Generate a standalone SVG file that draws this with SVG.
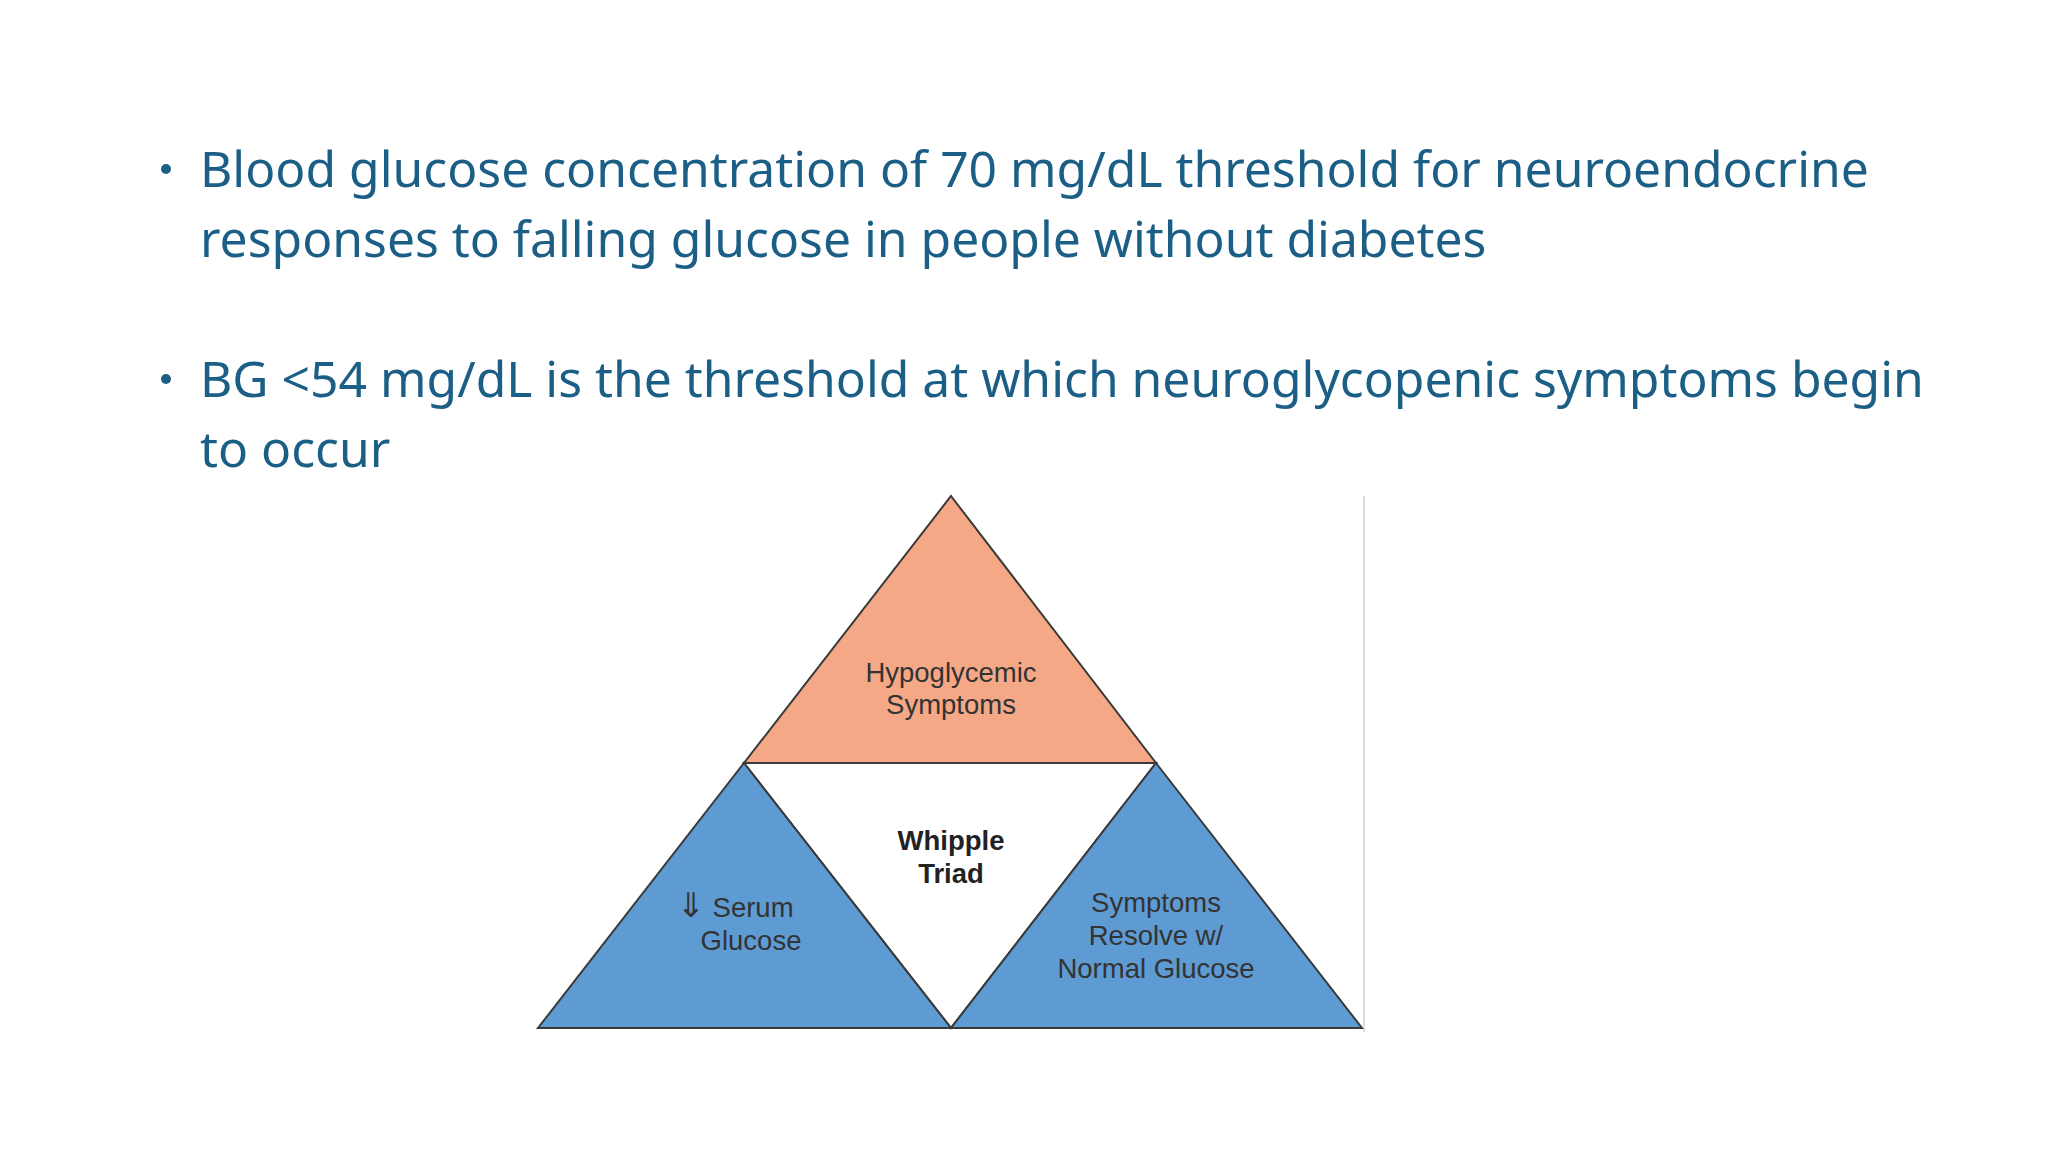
<svg xmlns="http://www.w3.org/2000/svg" width="2048" height="1152" viewBox="0 0 2048 1152">
<style>
.body{font-family:"Noto Sans","Open Sans",sans-serif;font-size:49.8px;fill:#1b5e86}
.lbl{font-family:"Liberation Sans",Arial,sans-serif;font-size:27.5px;fill:#333;text-anchor:middle}
.bold{font-weight:bold;fill:#222}
.tri{stroke:#3a3a3a;stroke-width:2;stroke-linejoin:miter}
</style>
<rect width="2048" height="1152" fill="#ffffff"/>
<g id="bullets">
<circle cx="166" cy="169" r="5" fill="#1b5e86"/>
<text class="body" x="200" y="187">Blood glucose concentration of 70 mg/dL threshold for neuroendocrine</text>
<text class="body" x="200" y="257">responses to falling glucose in people without diabetes</text>
<circle cx="166" cy="379" r="5" fill="#1b5e86"/>
<text class="body" x="200" y="397">BG &lt;54 mg/dL is the threshold at which neuroglycopenic symptoms begin</text>
<text class="body" x="200" y="467">to occur</text>
</g>
<line x1="1364" y1="496" x2="1364" y2="1032" stroke="#dddddd" stroke-width="2"/>
<g id="top">
<polygon class="tri" points="951,496 1156,763 744,763" fill="#f4a886"/>
<text class="lbl" x="951" y="682">Hypoglycemic</text>
<text class="lbl" x="951" y="714">Symptoms</text>
</g>
<g id="center">
<polygon class="tri" points="744,763 1156,763 951,1028" fill="#ffffff"/>
<text class="lbl bold" x="951" y="850">Whipple</text>
<text class="lbl bold" x="951" y="883">Triad</text>
</g>
<g id="left">
<polygon class="tri" points="744,763 951,1028 538,1028" fill="#5e9bd3"/>
<text class="lbl" x="735" y="917"><tspan font-family="'DejaVu Sans',sans-serif" font-size="34">⇓</tspan> Serum</text>
<text class="lbl" x="751" y="950">Glucose</text>
</g>
<g id="right">
<polygon class="tri" points="1156,763 1362,1028 951,1028" fill="#5e9bd3"/>
<text class="lbl" x="1156" y="912">Symptoms</text>
<text class="lbl" x="1156" y="945">Resolve w/</text>
<text class="lbl" x="1156" y="978">Normal Glucose</text>
</g>
<g id="connectors"></g>
</svg>
